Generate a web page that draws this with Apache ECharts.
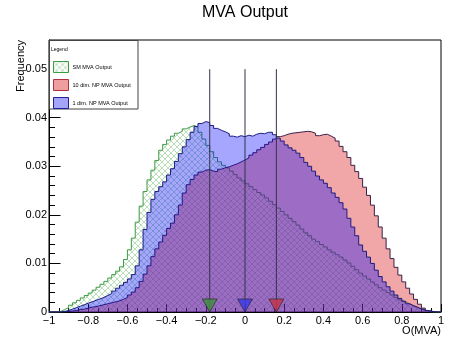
<!DOCTYPE html>
<html>
<head>
<meta charset="utf-8">
<script src="https://cdn.jsdelivr.net/npm/echarts@6/dist/echarts.min.js"></script>
<style>
html,body{margin:0;padding:0;background:#fff;}
#chart{width:474px;height:348px;}
</style>
</head>
<body>
<div id="chart"></div>
<script>
// ---- data ----
var binEdges = [
-1.00,-0.98,-0.96,-0.94,-0.92,-0.90,-0.88,-0.86,-0.84,-0.82,
-0.80,-0.78,-0.76,-0.74,-0.72,-0.70,-0.68,-0.66,-0.64,-0.62,
-0.60,-0.58,-0.56,-0.54,-0.52,-0.50,-0.48,-0.46,-0.44,-0.42,
-0.40,-0.38,-0.36,-0.34,-0.32,-0.30,-0.28,-0.26,-0.24,-0.22,
-0.20,-0.18,-0.16,-0.14,-0.12,-0.10,-0.08,-0.06,-0.04,-0.02,
 0.00, 0.02, 0.04, 0.06, 0.08, 0.10, 0.12, 0.14, 0.16, 0.18,
 0.20, 0.22, 0.24, 0.26, 0.28, 0.30, 0.32, 0.34, 0.36, 0.38,
 0.40, 0.42, 0.44, 0.46, 0.48, 0.50, 0.52, 0.54, 0.56, 0.58,
 0.60, 0.62, 0.64, 0.66, 0.68, 0.70, 0.72, 0.74, 0.76, 0.78,
 0.80, 0.82, 0.84, 0.86, 0.88, 0.90, 0.92, 0.94, 0.96, 0.98
];
var upperEdge = 1.0;

var smMVA = [
0,0,0.0001,0.0005,0.0009,0.0014,0.0019,0.0024,0.0029,0.0034,
0.0039,0.0045,0.0051,0.0057,0.0063,0.0070,0.0077,0.0084,0.0093,0.0108,
0.0128,0.0152,0.0185,0.0218,0.0248,0.0272,0.0292,0.0312,0.0333,0.0345,
0.0354,0.0362,0.0368,0.0372,0.0377,0.0381,0.0384,0.0381,0.0370,0.0356,
0.0343,0.0330,0.0318,0.0309,0.0302,0.0297,0.0290,0.0283,0.0276,0.0270,
0.0264,0.0258,0.0252,0.0246,0.0241,0.0235,0.0228,0.0221,0.0214,0.0207,
0.0200,0.0193,0.0186,0.0179,0.0171,0.0163,0.0157,0.0150,0.0145,0.0139,
0.0134,0.0128,0.0123,0.0118,0.0113,0.0107,0.0101,0.0094,0.0087,0.0080,
0.0074,0.0068,0.0062,0.0056,0.0050,0.0045,0.0040,0.0035,0.0030,0.0025,
0.0021,0.0017,0.0013,0.0010,0.0006,0.0003,0.0001,0,0,0
];

var np10MVA = [
0,0,0,0,0.0001,0.0002,0.0003,0.0005,0.0006,0.0008,
0.0010,0.0011,0.0013,0.0015,0.0017,0.0019,0.0021,0.0023,0.0026,0.0030,
0.0035,0.0041,0.0050,0.0063,0.0078,0.0095,0.0114,0.0130,0.0144,0.0158,
0.0172,0.0183,0.0200,0.0220,0.0245,0.0262,0.0273,0.0282,0.0288,0.0292,
0.0293,0.0290,0.0289,0.0294,0.0297,0.0299,0.0302,0.0305,0.0309,0.0313,
0.0317,0.0323,0.0328,0.0334,0.0339,0.0345,0.0350,0.0356,0.0361,0.0363,
0.0366,0.0368,0.0369,0.0370,0.0371,0.0372,0.0371,0.0368,0.0363,0.0365,
0.0366,0.0362,0.0358,0.0352,0.0341,0.0330,0.0318,0.0302,0.0289,0.0275,
0.0257,0.0240,0.0220,0.0198,0.0175,0.0152,0.0130,0.0110,0.0092,0.0076,
0.0062,0.0049,0.0037,0.0026,0.0016,0.0008,0.0003,0.0001,0,0
];

var np1MVA = [
0,0,0,0.0001,0.0003,0.0006,0.0009,0.0012,0.0015,0.0018,
0.0021,0.0024,0.0027,0.0030,0.0034,0.0038,0.0043,0.0049,0.0055,0.0061,
0.0068,0.0077,0.0095,0.0128,0.0170,0.0205,0.0232,0.0248,0.0258,0.0268,
0.0282,0.0295,0.0310,0.0326,0.0340,0.0355,0.0370,0.0382,0.0388,0.0392,
0.0390,0.0384,0.0378,0.0374,0.0371,0.0367,0.0362,0.0360,0.0363,0.0361,
0.0364,0.0362,0.0366,0.0368,0.0367,0.0370,0.0370,0.0365,0.0358,0.0352,
0.0344,0.0338,0.0333,0.0327,0.0318,0.0308,0.0300,0.0290,0.0280,0.0272,
0.0265,0.0256,0.0245,0.0236,0.0225,0.0212,0.0193,0.0175,0.0157,0.0138,
0.0125,0.0113,0.0100,0.0086,0.0073,0.0062,0.0052,0.0043,0.0035,0.0028,
0.0022,0.0017,0.0013,0.0010,0.0006,0.0004,0.0002,0.0001,0,0
];

var seriesNames = ['SM MVA Output', '10 dim. NP MVA Output', '1 dim. NP MVA Output'];
var arrowX = [-0.18, 0, 0.16];
var arrowTop = 0.05;
var arrowColors = ['#3f8f3f', '#3a3ae8', '#c8354a'];
var xTicks = [-1, -0.8, -0.6, -0.4, -0.2, 0, 0.2, 0.4, 0.6, 0.8, 1];
var yTicks = [0, 0.01, 0.02, 0.03, 0.04, 0.05];

// ---- helpers ----
function histData(vals) {
  var d = binEdges.map(function (x, i) { return [x, vals[i]]; });
  d.push([upperEdge, vals[vals.length - 1]]);
  return d;
}
function hatchPattern(color, s, w) {
  var c = document.createElement('canvas');
  c.width = s; c.height = s;
  var g = c.getContext('2d');
  g.strokeStyle = color;
  g.lineWidth = w;
  g.beginPath();
  g.moveTo(-1, -1); g.lineTo(s + 1, s + 1);
  g.moveTo(s + 1, -1); g.lineTo(-1, s + 1);
  g.stroke();
  return { image: c, repeat: 'repeat' };
}

var FONT = 'Liberation Sans, Arial, Helvetica, sans-serif';
var smHatch = hatchPattern('rgba(60,165,60,0.6)', 6, 0.6);
var smHatchLegend = hatchPattern('rgba(60,165,60,0.6)', 6, 0.6);

var chart = echarts.init(document.getElementById('chart'), null, { renderer: 'canvas' });

var series = [
  {
    name: seriesNames[0], type: 'line', step: 'end', symbol: 'none',
    data: histData(smMVA),
    lineStyle: { color: '#3f9a45', width: 1 },
    itemStyle: { color: '#3f9a45' },
    areaStyle: { color: smHatch, opacity: 1 },
    z: 1
  },
  {
    name: seriesNames[1], type: 'line', step: 'end', symbol: 'none',
    data: histData(np10MVA),
    lineStyle: { color: '#3a2048', width: 1 },
    itemStyle: { color: '#e89696' },
    areaStyle: { color: 'rgba(222,50,50,0.43)', opacity: 1 },
    z: 2
  },
  {
    name: seriesNames[2], type: 'line', step: 'end', symbol: 'none',
    data: histData(np1MVA),
    lineStyle: { color: '#1c1c80', width: 1 },
    itemStyle: { color: '#a6a6fa' },
    areaStyle: { color: 'rgba(0,0,255,0.35)', opacity: 1 },
    z: 3
  }
];

arrowX.forEach(function (x, i) {
  series.push({
    type: 'line', symbol: 'none', silent: true,
    data: [[x, arrowTop], [x, 0]],
    lineStyle: { color: '#33334a', width: 1 },
    z: 4
  });
});

series.push({
  type: 'scatter', silent: true,
  symbol: 'path://M0,0 L15,0 L7.5,13 Z',
  symbolSize: [15, 13],
  symbolOffset: [0, -6.5],
  data: arrowX.map(function (x, i) {
    return { value: [x, 0], itemStyle: { color: arrowColors[i], borderColor: '#222', borderWidth: 0.8 } };
  }),
  z: 5
});

var option = {
  animation: false,
  backgroundColor: '#fff',
  textStyle: { fontFamily: FONT },
  title: {
    text: 'MVA Output',
    left: 245, top: 5, textAlign: 'center', padding: 0,
    textStyle: { fontSize: 16, fontWeight: 'normal', color: '#000', fontFamily: FONT }
  },
  grid: {
    left: 49, right: 33, top: 40, bottom: 36,
    show: true, borderColor: '#000', borderWidth: 1, backgroundColor: 'transparent'
  },
  legend: {
    orient: 'vertical', left: 53, top: 61, padding: 0,
    itemWidth: 15, itemHeight: 11, itemGap: 6,
    selectedMode: false, z: 20,
    textStyle: { fontSize: 5.5, color: '#000', fontFamily: FONT, padding: [0, 0, 0, -1] },
    data: [
      { name: seriesNames[0], icon: 'rect', itemStyle: { color: smHatchLegend, borderColor: '#3f9a45', borderWidth: 1 } },
      { name: seriesNames[1], icon: 'rect', itemStyle: { color: '#ee9e9e', borderColor: '#b03040', borderWidth: 1 } },
      { name: seriesNames[2], icon: 'rect', itemStyle: { color: '#a4a4fa', borderColor: '#20209a', borderWidth: 1 } }
    ]
  },
  xAxis: {
    type: 'value', min: xTicks[0], max: xTicks[xTicks.length - 1], interval: 0.2,
    axisLine: { onZero: false, lineStyle: { color: '#000', width: 1 } },
    axisTick: { inside: true, length: 8, lineStyle: { color: '#000' } },
    minorTick: { show: true, splitNumber: 4, length: 4, lineStyle: { color: '#000' } },
    splitLine: { show: false },
    axisLabel: {
      margin: 3, fontSize: 11, color: '#000', fontFamily: FONT,
      formatter: function (v) { return String(+v.toFixed(1)).replace('-', '\u2212'); }
    }
  },
  yAxis: {
    type: 'value', min: yTicks[0], max: 0.056, interval: 0.01,
    axisLine: { show: true, onZero: false, lineStyle: { color: '#000', width: 1 } },
    axisTick: { show: true, inside: true, length: 11.5, lineStyle: { color: '#000' } },
    minorTick: { show: true, splitNumber: 5, length: 6, lineStyle: { color: '#000' } },
    splitLine: { show: false },
    axisLabel: {
      margin: 2, fontSize: 11, color: '#000', fontFamily: FONT, showMaxLabel: false,
      formatter: function (v) {
        if (v > yTicks[yTicks.length - 1] + 1e-6) return '';
        return v === 0 ? '0' : String(+v.toFixed(2));
      }
    }
  },
  graphic: [
    {
      type: 'rect', z: 10, silent: true,
      shape: { x: 49.5, y: 40.5, width: 88.5, height: 68.5 },
      style: { fill: '#fff', stroke: '#444', lineWidth: 1 }
    },
    {
      type: 'text', z: 11, x: 51, y: 49.5, silent: true,
      style: { text: 'Legend', fontSize: 5, fill: '#000', fontFamily: FONT, verticalAlign: 'middle' }
    },
    {
      type: 'text', z: 11, x: 21, y: 40, rotation: Math.PI / 2, silent: true,
      style: { text: 'Frequency', fontSize: 11, fill: '#000', fontFamily: FONT, align: 'right', verticalAlign: 'middle' }
    },
    {
      type: 'text', z: 11, x: 441, y: 331, silent: true,
      style: { text: 'O(MVA)', fontSize: 11, fill: '#000', fontFamily: FONT, align: 'right', verticalAlign: 'middle' }
    }
  ],
  series: series
};
chart.setOption(option);
</script>
</body>
</html>
